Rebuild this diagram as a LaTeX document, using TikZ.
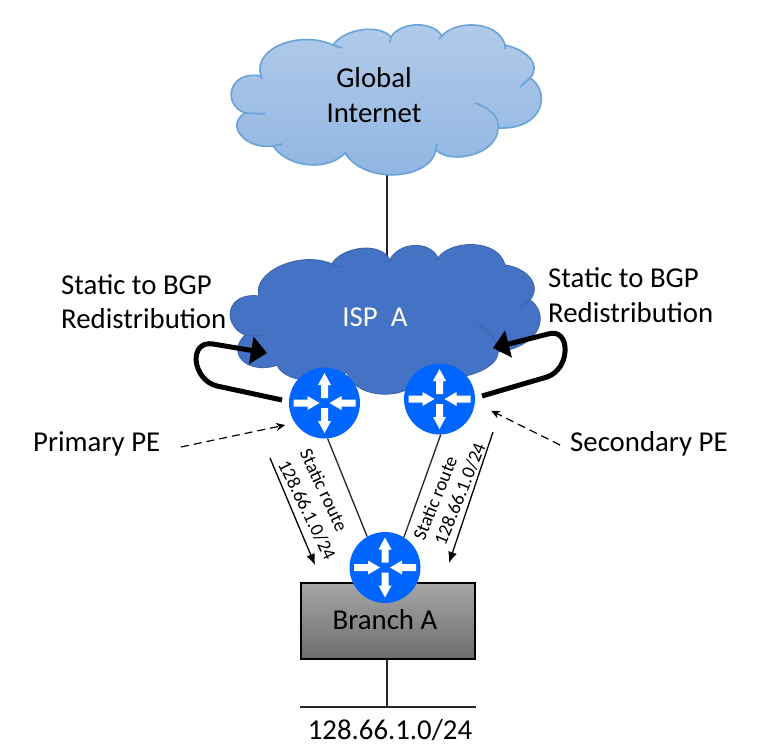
\documentclass[tikz,border=0pt]{standalone}
\usepackage{fontspec}
\setmainfont{Carlito}
\usetikzlibrary{arrows.meta}
\definecolor{routerblue}{HTML}{0066FF}
\definecolor{gtop}{HTML}{B2CBE9}
\definecolor{gbot}{HTML}{8FB4E2}
\definecolor{gline}{HTML}{66A4D9}
\definecolor{ispfill}{HTML}{4472C4}
\definecolor{ispline}{HTML}{3F66AE}
\newcommand{\glyphs}{%
  \fill[white,shift={(path picture bounding box.center)}]
    (0pt,30pt) -- (-6.5pt,18pt) -- (-3.5pt,18pt) -- (-3.5pt,5pt) -- (3.5pt,5pt) -- (3.5pt,18pt) -- (6.5pt,18pt) -- cycle
    (0pt,-30pt) -- (-6.5pt,-18pt) -- (-3.5pt,-18pt) -- (-3.5pt,-5pt) -- (3.5pt,-5pt) -- (3.5pt,-18pt) -- (6.5pt,-18pt) -- cycle
    (-31pt,3.5pt) -- (-17pt,3.5pt) -- (-17pt,7pt) -- (-5pt,0pt) -- (-17pt,-7pt) -- (-17pt,-3.5pt) -- (-31pt,-3.5pt) -- cycle
    (31pt,3.5pt) -- (17pt,3.5pt) -- (17pt,7pt) -- (5pt,0pt) -- (17pt,-7pt) -- (17pt,-3.5pt) -- (31pt,-3.5pt) -- cycle;}
\tikzset{
  router/.style={circle,fill=routerblue,minimum size=71pt,inner sep=0pt,path picture={\glyphs}},
  biglabel/.style={font=\fontsize{28.8}{35}\selectfont,inner sep=0pt},
  leftlabel/.style={biglabel,align=left,anchor=west},
  routelabel/.style={font=\fontsize{19}{20}\selectfont,inner sep=0pt},
  thinline/.style={line width=1.3pt,black!85},
  thinarrow/.style={line width=1.3pt,-{Latex[length=11pt,width=9pt]}},
  dasharrow/.style={line width=1.2pt,dash pattern=on 8pt off 5pt,-{Stealth[length=9pt,width=8pt]}},
  bigarrow/.style={line width=5pt,-{Triangle[length=16pt,width=27pt]}},
  globalcloud/.style={draw=gline,line width=1.6pt,top color=gtop,bottom color=gbot},
  stubg/.style={draw=gline,line width=1.6pt},
  ispcloud/.style={draw=ispline,line width=1pt,fill=ispfill},
  stubi/.style={draw=ispline,line width=1pt},
}
\begin{document}
\begin{tikzpicture}[x=1pt,y=-1pt]
\useasboundingbox[fill=white] (0,0) rectangle (768,754);
\coordinate (gbottom) at (387,172);
\coordinate (itop) at (387,256);
\draw[line width=1.3pt,black!85] (gbottom) -- (itop);
% Global cloud
\path[globalcloud] (261,76)
  .. controls (252,48) and (300,30) .. (333,45)
  .. controls (345,28) and (380,24) .. (391,37)
  .. controls (400,22) and (432,20) .. (442,36)
  .. controls (455,20) and (498,20) .. (505,45)
  .. controls (527,50) and (542,65) .. (530,78)
  .. controls (550,90) and (546,130) .. (498,128)
  .. controls (498,155) and (450,165) .. (436,150)
  .. controls (430,180) and (365,185) .. (345,153)
  .. controls (330,170) and (290,170) .. (273,146)
  .. controls (245,150) and (225,125) .. (245,113)
  .. controls (222,105) and (228,70) .. (261,76) -- cycle;
\path[stubg] (261,76) -- (262,79);
\path[stubg] (333,45) -- (342,48);
\path[stubg] (391,37) -- (390,42);
\path[stubg] (442,36) -- (439,39);
\path[stubg] (505,45) -- (505,49);
\path[stubg] (530,78) -- (520,87);
\path[stubg] (475,103) .. controls (490,108) and (500,118) .. (498,128);
\path[stubg] (436,150) -- (437,144);
\path[stubg] (345,153) -- (350,159);
\path[stubg] (273,146) -- (282,144);
\path[stubg] (245,113) -- (265,114);
\node[biglabel,align=center] (global) at (374,95) {Global\\Internet};
% ISP cloud
\path[ispcloud] (259,296)
  .. controls (252,272) and (300,250) .. (332,264)
  .. controls (340,248) and (380,240) .. (390,260)
  .. controls (398,242) and (430,240) .. (438,258)
  .. controls (450,240) and (498,238) .. (505,265)
  .. controls (527,268) and (542,285) .. (530,300)
  .. controls (548,312) and (545,345) .. (498,352)
  .. controls (498,372) and (450,385) .. (420,375)
  .. controls (415,400) and (355,402) .. (347,372)
  .. controls (335,385) and (285,385) .. (277,365)
  .. controls (250,375) and (225,355) .. (245,335)
  .. controls (222,325) and (225,292) .. (259,296) -- cycle;
\path[stubi] (332,264) -- (342,268);
\path[stubi] (390,260) -- (390,263);
\path[stubi] (438,258) -- (436,260);
\path[stubi] (530,300) -- (520,307);
\path[stubi] (475,324) .. controls (487,328) and (496,336) .. (498,352);
\path[stubi] (245,335) -- (265,335);
\path[stubi] (277,365) -- (270,367);
\node[biglabel,white] (isp) at (375,317) {ISP\ \ A};
% routers
\node[router] (r1) at (324.5,403) {};
\node[router] (r2) at (439.5,399) {};
% branch
\node[draw=black,line width=1.8pt,top color=black!35,bottom color=black!57,minimum width=174pt,minimum height=76pt,inner sep=0pt,anchor=north west] (branch) at (299.7,582) {};
\node[biglabel] (branchtext) at (385,620) {Branch A};
\node[router] (r3) at (385,567.5) {};
% LAN
\coordinate (lanl) at (300,707);
\coordinate (lanr) at (476,707);
\coordinate (lanm) at (387,707);
\draw[thinline] (branch.south -| lanm) -- (lanm);
\draw[thinline] (lanl) -- (lanr);
\node[inner sep=0pt,font=\fontsize{28.8}{30}\selectfont] (lan) at (390,730) {128.66.1.0/24};
% links
\draw[thinline] (r1.-85) -- (r3.120);
\draw[thinline] (r2.-88) -- (r3.58);
% route arrows
\coordinate (a1s) at (270,458);
\coordinate (a1e) at (315,565);
\coordinate (a2s) at (493,432);
\coordinate (a2e) at (449,563);
\draw[thinarrow] (a1s) -- (a1e);
\draw[thinarrow] (a2s) -- (a2e);
\node[routelabel,rotate=-65] (sr1) at (324,490) {Static route};
\node[routelabel,rotate=-64] (nr1) at (307,510) {128.66.1.0/24};
\node[routelabel,rotate=68] (sr2) at (435,498) {Static route};
\node[routelabel,rotate=68] (nr2) at (460,494) {128.66.1.0/24};
% labels
\node[leftlabel] (left1) at (61,285) {Static to BGP};
\node[leftlabel] (left2) at (61,319) {Redistribution};
\node[leftlabel] (right1) at (548,278) {Static to BGP};
\node[leftlabel] (right2) at (548,313) {Redistribution};
\node[leftlabel] (ppe) at (33,444) {Primary PE};
\node[leftlabel] (spe) at (570,444) {Secondary PE};
% loop arrows
\coordinate (l1) at (282,400);
\coordinate (l2) at (267,353);
\draw[bigarrow] (l1) -- (217,386) .. controls (192,380) and (188,340) .. (213,344) -- (l2);
\coordinate (m1) at (482,396);
\coordinate (m2) at (493,348);
\draw[bigarrow] (m1) -- (547,377) .. controls (571,369) and (571,327) .. (548,334) -- (m2);
% dashed pointers
\coordinate (pp) at (181,447);
\coordinate (sp) at (560,445);
\draw[dasharrow,shorten >=10pt] (pp) -- (r1.214);
\draw[dasharrow,shorten >=18pt] (sp) -- (r2.-6);
\end{tikzpicture}
\end{document}
